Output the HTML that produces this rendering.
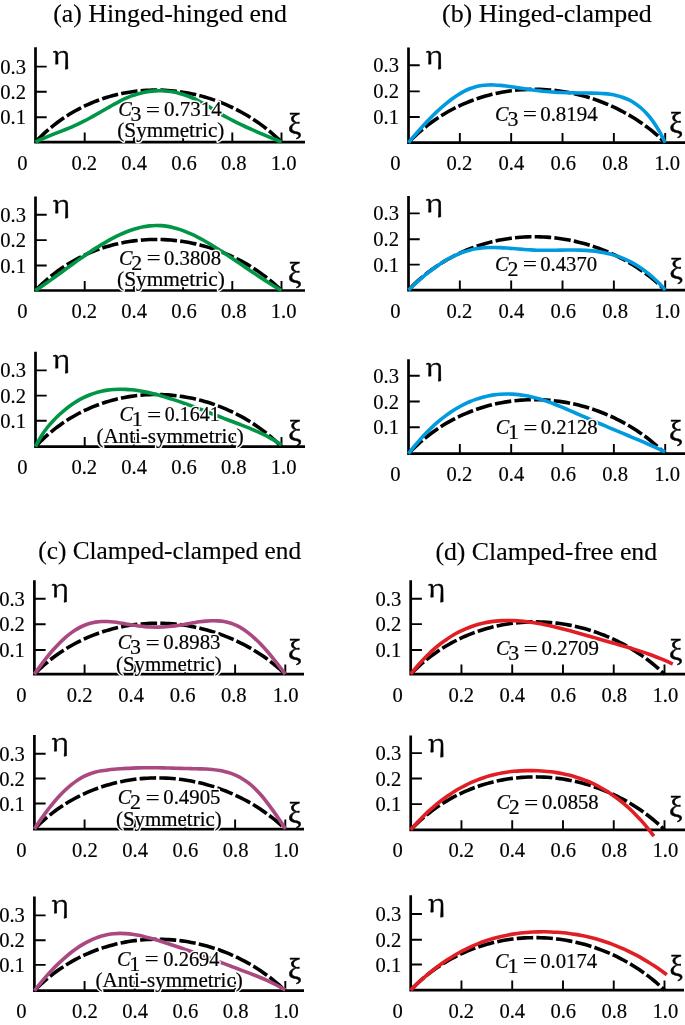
<!DOCTYPE html>
<html><head><meta charset="utf-8"><title>Figure</title>
<style>html,body{margin:0;padding:0;background:#fff;width:685px;height:1025px;overflow:hidden}svg{display:block}</style>
</head><body>
<svg width="685" height="1025" viewBox="0 0 685 1025">
<style>
text{font-family:'Liberation Serif', serif;fill:#000}
.tl{font-size:20.6px;stroke:#000;stroke-width:0.15px}
.gk{font-size:25.5px;font-family:'Noto Serif CJK SC','Liberation Serif',serif;stroke:#000;stroke-width:0.4px}
.gx{font-size:30px;stroke:#000;stroke-width:0.45px}
.halo{font-size:20.3px;fill:#fff;stroke:#fff;stroke-width:3px;stroke-linejoin:round}
.an{font-size:20.3px;stroke:#000;stroke-width:0.2px}
.sb{font-size:17px}
.ti{font-size:25.7px;stroke:#000;stroke-width:0.15px}
</style>
<rect width="685" height="1025" fill="#fff"/>
<path d="M35.5,47.2V142.1M34.15,142.1H305.0" fill="none" stroke="#000" stroke-width="2.7"/>
<path d="M35.5,66.6h11.2M35.5,91.7h11.2M35.5,117.3h11.2M84.70,142.1v-9.6M133.90,142.1v-9.6M183.10,142.1v-9.6M232.30,142.1v-9.6M281.50,142.1v-9.6" fill="none" stroke="#000" stroke-width="1.9"/>
<path d="M35.50,142.10 L38.58,138.88 L41.65,135.83 L44.73,132.94 L47.80,130.19 L50.88,127.58 L53.95,125.09 L57.02,122.72 L60.10,120.47 L63.17,118.33 L66.25,116.29 L69.33,114.35 L72.40,112.50 L75.47,110.75 L78.55,109.08 L81.62,107.50 L84.70,105.99 L87.78,104.57 L90.85,103.23 L93.92,101.96 L97.00,100.76 L100.08,99.63 L103.15,98.57 L106.22,97.58 L109.30,96.65 L112.38,95.79 L115.45,95.00 L118.53,94.26 L121.60,93.59 L124.67,92.98 L127.75,92.43 L130.82,91.94 L133.90,91.50 L136.97,91.13 L140.05,90.81 L143.12,90.55 L146.20,90.34 L149.28,90.19 L152.35,90.10 L155.43,90.06 L158.50,90.08 L161.57,90.15 L164.65,90.27 L167.72,90.46 L170.80,90.69 L173.88,90.98 L176.95,91.33 L180.03,91.73 L183.10,92.19 L186.18,92.70 L189.25,93.27 L192.32,93.90 L195.40,94.58 L198.47,95.32 L201.55,96.12 L204.62,96.98 L207.70,97.89 L210.78,98.87 L213.85,99.91 L216.93,101.01 L220.00,102.18 L223.07,103.41 L226.15,104.70 L229.22,106.07 L232.30,107.50 L235.38,109.00 L238.45,110.58 L241.53,112.23 L244.60,113.96 L247.68,115.77 L250.75,117.67 L253.82,119.65 L256.90,121.72 L259.98,123.88 L263.05,126.14 L266.12,128.51 L269.20,130.98 L272.27,133.57 L275.35,136.28 L278.43,139.12 L281.50,142.10" fill="none" stroke="#000" stroke-width="3.6" stroke-dasharray="16.5 3.2" stroke-dashoffset="-1.5"/>
<path d="M35.50,142.10 C36.50,141.61 39.50,140.10 41.50,139.18 C43.50,138.26 45.50,137.41 47.50,136.57 C49.50,135.74 51.50,134.95 53.50,134.16 C55.50,133.38 57.50,132.62 59.50,131.85 C61.50,131.07 63.50,130.31 65.50,129.51 C67.50,128.71 69.50,127.91 71.50,127.05 C73.50,126.19 75.50,125.30 77.50,124.36 C79.50,123.41 81.50,122.42 83.50,121.40 C85.50,120.38 87.50,119.32 89.50,118.24 C91.50,117.16 93.50,116.04 95.50,114.92 C97.50,113.79 99.50,112.64 101.50,111.49 C103.50,110.34 105.50,109.17 107.50,108.02 C109.50,106.88 111.50,105.73 113.50,104.62 C115.50,103.52 117.50,102.43 119.50,101.40 C121.50,100.38 123.50,99.38 125.50,98.47 C127.50,97.55 129.50,96.69 131.50,95.93 C133.50,95.17 135.50,94.49 137.50,93.90 C139.50,93.31 141.50,92.81 143.50,92.39 C145.50,91.97 147.50,91.64 149.50,91.38 C151.50,91.13 153.50,90.96 155.50,90.87 C157.50,90.77 159.50,90.76 161.50,90.82 C163.50,90.88 165.50,91.01 167.50,91.23 C169.50,91.44 171.50,91.73 173.50,92.10 C175.50,92.46 177.50,92.91 179.50,93.43 C181.50,93.95 183.50,94.55 185.50,95.23 C187.50,95.91 189.50,96.67 191.50,97.50 C193.50,98.34 195.50,99.26 197.50,100.25 C199.50,101.24 201.50,102.34 203.50,103.46 C205.50,104.59 207.50,105.80 209.50,107.01 C211.50,108.21 213.50,109.47 215.50,110.69 C217.50,111.91 219.50,113.15 221.50,114.33 C223.50,115.51 225.50,116.65 227.50,117.76 C229.50,118.86 231.50,119.92 233.50,120.95 C235.50,121.98 237.50,122.97 239.50,123.94 C241.50,124.91 243.50,125.84 245.50,126.76 C247.50,127.68 249.50,128.58 251.50,129.46 C253.50,130.34 255.50,131.20 257.50,132.05 C259.50,132.90 261.50,133.74 263.50,134.58 C265.50,135.41 267.50,136.24 269.50,137.07 C271.50,137.90 273.50,138.73 275.50,139.57 C277.50,140.41 280.50,141.68 281.50,142.10" fill="none" stroke="#009646" stroke-width="3.6" stroke-linecap="butt" stroke-linejoin="round"/>
<text x="26.00" y="73.60" text-anchor="end" class="tl">0.3</text>
<text x="26.00" y="98.70" text-anchor="end" class="tl">0.2</text>
<text x="26.00" y="124.30" text-anchor="end" class="tl">0.1</text>
<text x="22.50" y="169.60" text-anchor="middle" class="tl">0</text>
<text x="84.30" y="169.60" text-anchor="middle" class="tl">0.2</text>
<text x="134.10" y="169.60" text-anchor="middle" class="tl">0.4</text>
<text x="184.00" y="169.60" text-anchor="middle" class="tl">0.6</text>
<text x="233.80" y="169.60" text-anchor="middle" class="tl">0.8</text>
<text x="283.60" y="169.60" text-anchor="middle" class="tl">1.0</text>
<text x="0" y="0" class="gk" transform="translate(52.20,63.60) scale(1.18,1)">η</text>
<text x="288.00" y="133.70" class="gx">ξ</text>
<text x="118.20" y="116.00" font-style="italic" class="halo" aria-hidden="true">C</text>
<text x="0" y="0" transform="translate(130.50,121.00) scale(1.08,1)" class="halo" aria-hidden="true" font-size="17">3</text>
<text x="0" y="0" transform="translate(145.80,116.60) scale(1.25,1)" class="halo" aria-hidden="true">=</text>
<text x="164.10" y="116.00" textLength="57.7" lengthAdjust="spacingAndGlyphs" class="halo" aria-hidden="true">0.7314</text>
<text x="117.30" y="137.40" textLength="107.1" lengthAdjust="spacingAndGlyphs" class="halo" aria-hidden="true">(Symmetric)</text>
<text x="118.20" y="116.00" font-style="italic" class="an">C</text>
<text x="0" y="0" transform="translate(130.50,121.00) scale(1.08,1)" class="an" font-size="17">3</text>
<text x="0" y="0" transform="translate(145.80,116.60) scale(1.25,1)" class="an" style="stroke-width:0">=</text>
<text x="164.10" y="116.00" textLength="57.7" lengthAdjust="spacingAndGlyphs" class="an">0.7314</text>
<text x="117.30" y="137.40" textLength="107.1" lengthAdjust="spacingAndGlyphs" class="an">(Symmetric)</text>
<path d="M35.5,196.4V290.5M34.15,290.5H305.0" fill="none" stroke="#000" stroke-width="2.7"/>
<path d="M35.5,214.8h11.2M35.5,240.1h11.2M35.5,265.5h11.2M84.70,290.5v-9.6M133.90,290.5v-9.6M183.10,290.5v-9.6M232.30,290.5v-9.6M281.50,290.5v-9.6" fill="none" stroke="#000" stroke-width="1.9"/>
<path d="M35.50,290.50 L38.58,287.34 L41.65,284.35 L44.73,281.51 L47.80,278.81 L50.88,276.25 L53.95,273.81 L57.02,271.49 L60.10,269.28 L63.17,267.18 L66.25,265.18 L69.33,263.28 L72.40,261.46 L75.47,259.74 L78.55,258.11 L81.62,256.55 L84.70,255.08 L87.78,253.68 L90.85,252.36 L93.92,251.11 L97.00,249.94 L100.08,248.83 L103.15,247.79 L106.22,246.82 L109.30,245.91 L112.38,245.07 L115.45,244.29 L118.53,243.57 L121.60,242.91 L124.67,242.31 L127.75,241.77 L130.82,241.29 L133.90,240.86 L136.97,240.49 L140.05,240.18 L143.12,239.92 L146.20,239.72 L149.28,239.57 L152.35,239.48 L155.43,239.44 L158.50,239.46 L161.57,239.53 L164.65,239.66 L167.72,239.83 L170.80,240.07 L173.88,240.35 L176.95,240.69 L180.03,241.09 L183.10,241.53 L186.18,242.04 L189.25,242.60 L192.32,243.21 L195.40,243.88 L198.47,244.61 L201.55,245.39 L204.62,246.23 L207.70,247.13 L210.78,248.09 L213.85,249.11 L216.93,250.19 L220.00,251.33 L223.07,252.54 L226.15,253.81 L229.22,255.15 L232.30,256.55 L235.38,258.03 L238.45,259.58 L241.53,261.20 L244.60,262.90 L247.68,264.67 L250.75,266.53 L253.82,268.47 L256.90,270.50 L259.98,272.63 L263.05,274.85 L266.12,277.17 L269.20,279.59 L272.27,282.13 L275.35,284.79 L278.43,287.58 L281.50,290.50" fill="none" stroke="#000" stroke-width="3.6" stroke-dasharray="16.5 3.2" stroke-dashoffset="-1.2"/>
<path d="M35.50,290.50 C36.50,289.83 39.50,287.83 41.50,286.46 C43.50,285.09 45.50,283.69 47.50,282.28 C49.50,280.88 51.50,279.44 53.50,278.01 C55.50,276.57 57.50,275.12 59.50,273.67 C61.50,272.22 63.50,270.76 65.50,269.31 C67.50,267.86 69.50,266.40 71.50,264.96 C73.50,263.51 75.50,262.07 77.50,260.65 C79.50,259.23 81.50,257.82 83.50,256.43 C85.50,255.04 87.50,253.67 89.50,252.32 C91.50,250.98 93.50,249.66 95.50,248.38 C97.50,247.09 99.50,245.84 101.50,244.62 C103.50,243.41 105.50,242.23 107.50,241.10 C109.50,239.96 111.50,238.87 113.50,237.83 C115.50,236.80 117.50,235.80 119.50,234.87 C121.50,233.94 123.50,233.06 125.50,232.25 C127.50,231.44 129.50,230.68 131.50,230.00 C133.50,229.32 135.50,228.70 137.50,228.17 C139.50,227.63 141.50,227.16 143.50,226.78 C145.50,226.39 147.50,226.09 149.50,225.87 C151.50,225.65 153.50,225.52 155.50,225.48 C157.50,225.45 159.50,225.50 161.50,225.65 C163.50,225.80 165.50,226.06 167.50,226.39 C169.50,226.72 171.50,227.15 173.50,227.65 C175.50,228.15 177.50,228.74 179.50,229.40 C181.50,230.05 183.50,230.79 185.50,231.58 C187.50,232.37 189.50,233.23 191.50,234.15 C193.50,235.06 195.50,236.04 197.50,237.06 C199.50,238.08 201.50,239.16 203.50,240.28 C205.50,241.39 207.50,242.55 209.50,243.75 C211.50,244.94 213.50,246.17 215.50,247.42 C217.50,248.68 219.50,249.96 221.50,251.26 C223.50,252.56 225.50,253.89 227.50,255.22 C229.50,256.55 231.50,257.90 233.50,259.25 C235.50,260.60 237.50,261.96 239.50,263.31 C241.50,264.67 243.50,266.03 245.50,267.39 C247.50,268.74 249.50,270.10 251.50,271.44 C253.50,272.78 255.50,274.12 257.50,275.45 C259.50,276.77 261.50,278.09 263.50,279.38 C265.50,280.68 267.50,281.96 269.50,283.22 C271.50,284.48 273.50,285.72 275.50,286.93 C277.50,288.15 280.50,289.90 281.50,290.49" fill="none" stroke="#009646" stroke-width="3.6" stroke-linecap="butt" stroke-linejoin="round"/>
<text x="26.00" y="221.80" text-anchor="end" class="tl">0.3</text>
<text x="26.00" y="247.10" text-anchor="end" class="tl">0.2</text>
<text x="26.00" y="272.50" text-anchor="end" class="tl">0.1</text>
<text x="22.50" y="318.00" text-anchor="middle" class="tl">0</text>
<text x="84.30" y="318.00" text-anchor="middle" class="tl">0.2</text>
<text x="134.10" y="318.00" text-anchor="middle" class="tl">0.4</text>
<text x="184.00" y="318.00" text-anchor="middle" class="tl">0.6</text>
<text x="233.80" y="318.00" text-anchor="middle" class="tl">0.8</text>
<text x="283.60" y="318.00" text-anchor="middle" class="tl">1.0</text>
<text x="0" y="0" class="gk" transform="translate(52.20,212.80) scale(1.18,1)">η</text>
<text x="288.00" y="283.00" class="gx">ξ</text>
<text x="118.90" y="264.60" font-style="italic" class="halo" aria-hidden="true">C</text>
<text x="0" y="0" transform="translate(131.20,269.60) scale(1.08,1)" class="halo" aria-hidden="true" font-size="17">2</text>
<text x="0" y="0" transform="translate(146.50,265.20) scale(1.25,1)" class="halo" aria-hidden="true">=</text>
<text x="164.00" y="264.60" textLength="57.0" lengthAdjust="spacingAndGlyphs" class="halo" aria-hidden="true">0.3808</text>
<text x="117.10" y="286.30" textLength="107.7" lengthAdjust="spacingAndGlyphs" class="halo" aria-hidden="true">(Symmetric)</text>
<text x="118.90" y="264.60" font-style="italic" class="an">C</text>
<text x="0" y="0" transform="translate(131.20,269.60) scale(1.08,1)" class="an" font-size="17">2</text>
<text x="0" y="0" transform="translate(146.50,265.20) scale(1.25,1)" class="an" style="stroke-width:0">=</text>
<text x="164.00" y="264.60" textLength="57.0" lengthAdjust="spacingAndGlyphs" class="an">0.3808</text>
<text x="117.10" y="286.30" textLength="107.7" lengthAdjust="spacingAndGlyphs" class="an">(Symmetric)</text>
<path d="M35.5,351.7V446.6M34.15,446.6H305.0" fill="none" stroke="#000" stroke-width="2.7"/>
<path d="M35.5,370.4h11.2M35.5,395.6h11.2M35.5,420.8h11.2M84.70,446.6v-9.6M133.90,446.6v-9.6M183.10,446.6v-9.6M232.30,446.6v-9.6M281.50,446.6v-9.6" fill="none" stroke="#000" stroke-width="1.9"/>
<path d="M35.50,446.60 L38.58,443.38 L41.65,440.33 L44.73,437.43 L47.80,434.68 L50.88,432.06 L53.95,429.57 L57.02,427.20 L60.10,424.95 L63.17,422.80 L66.25,420.76 L69.33,418.82 L72.40,416.97 L75.47,415.21 L78.55,413.54 L81.62,411.96 L84.70,410.45 L87.78,409.03 L90.85,407.68 L93.92,406.41 L97.00,405.21 L100.08,404.08 L103.15,403.02 L106.22,402.03 L109.30,401.10 L112.38,400.24 L115.45,399.45 L118.53,398.71 L121.60,398.04 L124.67,397.43 L127.75,396.88 L130.82,396.38 L133.90,395.95 L136.97,395.57 L140.05,395.25 L143.12,394.99 L146.20,394.78 L149.28,394.63 L152.35,394.54 L155.43,394.50 L158.50,394.52 L161.57,394.59 L164.65,394.72 L167.72,394.90 L170.80,395.14 L173.88,395.43 L176.95,395.77 L180.03,396.18 L183.10,396.63 L186.18,397.15 L189.25,397.72 L192.32,398.34 L195.40,399.03 L198.47,399.77 L201.55,400.57 L204.62,401.43 L207.70,402.34 L210.78,403.32 L213.85,404.36 L216.93,405.47 L220.00,406.63 L223.07,407.86 L226.15,409.16 L229.22,410.53 L232.30,411.96 L235.38,413.47 L238.45,415.05 L241.53,416.70 L244.60,418.43 L247.68,420.24 L250.75,422.14 L253.82,424.12 L256.90,426.20 L259.98,428.36 L263.05,430.63 L266.12,432.99 L269.20,435.47 L272.27,438.06 L275.35,440.77 L278.43,443.62 L281.50,446.60" fill="none" stroke="#000" stroke-width="3.6" stroke-dasharray="16.5 3.2" stroke-dashoffset="-1.3"/>
<path d="M35.50,446.59 C36.50,444.77 39.50,438.91 41.50,435.68 C43.50,432.46 45.50,429.78 47.50,427.24 C49.50,424.70 51.50,422.55 53.50,420.43 C55.50,418.31 57.50,416.38 59.50,414.53 C61.50,412.68 63.50,410.95 65.50,409.33 C67.50,407.71 69.50,406.21 71.50,404.80 C73.50,403.40 75.50,402.11 77.50,400.92 C79.50,399.73 81.50,398.65 83.50,397.66 C85.50,396.67 87.50,395.78 89.50,394.98 C91.50,394.18 93.50,393.48 95.50,392.86 C97.50,392.24 99.50,391.71 101.50,391.26 C103.50,390.80 105.50,390.44 107.50,390.14 C109.50,389.85 111.50,389.63 113.50,389.48 C115.50,389.32 117.50,389.25 119.50,389.23 C121.50,389.20 123.50,389.25 125.50,389.35 C127.50,389.45 129.50,389.61 131.50,389.81 C133.50,390.02 135.50,390.28 137.50,390.58 C139.50,390.88 141.50,391.23 143.50,391.62 C145.50,392.00 147.50,392.43 149.50,392.88 C151.50,393.34 153.50,393.83 155.50,394.34 C157.50,394.86 159.50,395.40 161.50,395.96 C163.50,396.53 165.50,397.12 167.50,397.73 C169.50,398.34 171.50,398.97 173.50,399.62 C175.50,400.27 177.50,400.94 179.50,401.62 C181.50,402.30 183.50,403.01 185.50,403.72 C187.50,404.43 189.50,405.16 191.50,405.90 C193.50,406.63 195.50,407.38 197.50,408.14 C199.50,408.89 201.50,409.66 203.50,410.43 C205.50,411.19 207.50,411.97 209.50,412.75 C211.50,413.52 213.50,414.30 215.50,415.08 C217.50,415.86 219.50,416.64 221.50,417.42 C223.50,418.19 225.50,418.97 227.50,419.74 C229.50,420.50 231.50,421.26 233.50,422.02 C235.50,422.78 237.50,423.53 239.50,424.30 C241.50,425.07 243.50,425.83 245.50,426.62 C247.50,427.41 249.50,428.21 251.50,429.05 C253.50,429.89 255.50,430.74 257.50,431.64 C259.50,432.55 261.50,433.48 263.50,434.46 C265.50,435.45 267.50,436.48 269.50,437.57 C271.50,438.67 273.50,439.81 275.50,441.03 C277.50,442.25 280.50,444.26 281.50,444.90" fill="none" stroke="#009646" stroke-width="3.6" stroke-linecap="butt" stroke-linejoin="round"/>
<text x="26.00" y="377.40" text-anchor="end" class="tl">0.3</text>
<text x="26.00" y="402.60" text-anchor="end" class="tl">0.2</text>
<text x="26.00" y="427.80" text-anchor="end" class="tl">0.1</text>
<text x="22.50" y="474.10" text-anchor="middle" class="tl">0</text>
<text x="84.30" y="474.10" text-anchor="middle" class="tl">0.2</text>
<text x="134.10" y="474.10" text-anchor="middle" class="tl">0.4</text>
<text x="184.00" y="474.10" text-anchor="middle" class="tl">0.6</text>
<text x="233.80" y="474.10" text-anchor="middle" class="tl">0.8</text>
<text x="283.60" y="474.10" text-anchor="middle" class="tl">1.0</text>
<text x="0" y="0" class="gk" transform="translate(52.20,368.10) scale(1.18,1)">η</text>
<text x="288.30" y="440.50" class="gx">ξ</text>
<text x="119.40" y="421.20" font-style="italic" class="halo" aria-hidden="true">C</text>
<text x="0" y="0" transform="translate(131.70,426.20) scale(1.08,1)" class="halo" aria-hidden="true" font-size="17">1</text>
<text x="0" y="0" transform="translate(147.00,421.80) scale(1.25,1)" class="halo" aria-hidden="true">=</text>
<text x="164.80" y="421.20" textLength="54.9" lengthAdjust="spacingAndGlyphs" class="halo" aria-hidden="true">0.1641</text>
<text x="96.40" y="442.60" textLength="147.4" lengthAdjust="spacingAndGlyphs" class="halo" aria-hidden="true">(Anti-symmetric)</text>
<text x="119.40" y="421.20" font-style="italic" class="an">C</text>
<text x="0" y="0" transform="translate(131.70,426.20) scale(1.08,1)" class="an" font-size="17">1</text>
<text x="0" y="0" transform="translate(147.00,421.80) scale(1.25,1)" class="an" style="stroke-width:0">=</text>
<text x="164.80" y="421.20" textLength="54.9" lengthAdjust="spacingAndGlyphs" class="an">0.1641</text>
<text x="96.40" y="442.60" textLength="147.4" lengthAdjust="spacingAndGlyphs" class="an">(Anti-symmetric)</text>
<path d="M408.5,47.6V142.6M407.15,142.6H686.0" fill="none" stroke="#000" stroke-width="2.7"/>
<path d="M408.5,65.3h11.2M408.5,91.4h11.2M408.5,117.0h11.2M459.84,142.6v-9.6M511.18,142.6v-9.6M562.52,142.6v-9.6M613.86,142.6v-9.6M665.20,142.6v-9.6" fill="none" stroke="#000" stroke-width="1.9"/>
<path d="M408.50,142.60 L411.71,139.30 L414.92,136.18 L418.13,133.22 L421.33,130.40 L424.54,127.72 L427.75,125.18 L430.96,122.75 L434.17,120.45 L437.38,118.25 L440.59,116.16 L443.80,114.18 L447.00,112.28 L450.21,110.49 L453.42,108.78 L456.63,107.16 L459.84,105.62 L463.05,104.16 L466.26,102.78 L469.47,101.48 L472.68,100.25 L475.88,99.10 L479.09,98.01 L482.30,97.00 L485.51,96.05 L488.72,95.17 L491.93,94.35 L495.14,93.60 L498.34,92.91 L501.55,92.29 L504.76,91.72 L507.97,91.22 L511.18,90.77 L514.39,90.39 L517.60,90.06 L520.81,89.79 L524.01,89.58 L527.22,89.43 L530.43,89.33 L533.64,89.29 L536.85,89.31 L540.06,89.39 L543.27,89.51 L546.48,89.70 L549.68,89.94 L552.89,90.24 L556.10,90.60 L559.31,91.01 L562.52,91.48 L565.73,92.00 L568.94,92.58 L572.15,93.23 L575.36,93.92 L578.56,94.68 L581.77,95.50 L584.98,96.38 L588.19,97.32 L591.40,98.32 L594.61,99.38 L597.82,100.51 L601.02,101.71 L604.23,102.96 L607.44,104.29 L610.65,105.69 L613.86,107.16 L617.07,108.70 L620.28,110.31 L623.49,112.01 L626.69,113.78 L629.90,115.63 L633.11,117.57 L636.32,119.60 L639.53,121.72 L642.74,123.94 L645.95,126.26 L649.16,128.68 L652.37,131.21 L655.57,133.86 L658.78,136.64 L661.99,139.55 L665.20,142.60" fill="none" stroke="#000" stroke-width="3.6" stroke-dasharray="16.5 3.2" stroke-dashoffset="-3"/>
<path d="M408.50,142.60 C409.52,141.41 412.57,137.79 414.61,135.44 C416.65,133.09 418.69,130.77 420.72,128.51 C422.76,126.25 424.80,124.02 426.84,121.86 C428.87,119.71 430.91,117.60 432.95,115.57 C434.98,113.54 437.02,111.57 439.06,109.69 C441.10,107.81 443.13,106.01 445.17,104.30 C447.21,102.59 449.25,100.96 451.28,99.44 C453.32,97.93 455.36,96.50 457.40,95.20 C459.43,93.90 461.47,92.70 463.51,91.63 C465.54,90.56 467.58,89.60 469.62,88.79 C471.66,87.98 473.69,87.30 475.73,86.75 C477.77,86.21 479.81,85.81 481.84,85.51 C483.88,85.21 485.92,85.05 487.95,84.95 C489.99,84.86 492.03,84.88 494.07,84.94 C496.10,85.01 498.14,85.17 500.18,85.36 C502.22,85.54 504.25,85.80 506.29,86.06 C508.33,86.32 510.37,86.63 512.40,86.93 C514.44,87.23 516.48,87.54 518.51,87.85 C520.55,88.15 522.59,88.46 524.63,88.76 C526.66,89.05 528.70,89.35 530.74,89.63 C532.78,89.91 534.81,90.19 536.85,90.44 C538.89,90.70 540.92,90.94 542.96,91.17 C545.00,91.39 547.04,91.60 549.07,91.78 C551.11,91.96 553.15,92.12 555.19,92.25 C557.22,92.38 559.26,92.48 561.30,92.57 C563.33,92.65 565.37,92.71 567.41,92.76 C569.45,92.81 571.48,92.84 573.52,92.87 C575.56,92.90 577.60,92.92 579.63,92.94 C581.67,92.96 583.71,92.97 585.75,93.00 C587.78,93.03 589.82,93.05 591.86,93.10 C593.89,93.14 595.93,93.18 597.97,93.27 C600.01,93.35 602.04,93.45 604.08,93.62 C606.12,93.79 608.16,93.99 610.19,94.29 C612.23,94.59 614.27,94.95 616.30,95.43 C618.34,95.92 620.38,96.48 622.42,97.19 C624.45,97.91 626.49,98.72 628.53,99.71 C630.57,100.70 632.60,101.82 634.64,103.15 C636.68,104.49 638.72,105.98 640.75,107.74 C642.79,109.50 644.83,111.45 646.86,113.72 C648.90,115.98 650.94,118.48 652.98,121.34 C655.01,124.19 657.05,127.33 659.09,130.87 C661.13,134.41 664.18,140.64 665.20,142.60" fill="none" stroke="#009bde" stroke-width="3.6" stroke-linecap="butt" stroke-linejoin="round"/>
<text x="399.00" y="72.30" text-anchor="end" class="tl">0.3</text>
<text x="399.00" y="98.40" text-anchor="end" class="tl">0.2</text>
<text x="399.00" y="124.00" text-anchor="end" class="tl">0.1</text>
<text x="395.50" y="170.10" text-anchor="middle" class="tl">0</text>
<text x="459.40" y="170.10" text-anchor="middle" class="tl">0.2</text>
<text x="511.40" y="170.10" text-anchor="middle" class="tl">0.4</text>
<text x="563.30" y="170.10" text-anchor="middle" class="tl">0.6</text>
<text x="615.20" y="170.10" text-anchor="middle" class="tl">0.8</text>
<text x="667.20" y="170.10" text-anchor="middle" class="tl">1.0</text>
<text x="0" y="0" class="gk" transform="translate(425.20,64.00) scale(1.18,1)">η</text>
<text x="669.20" y="132.50" class="gx">ξ</text>
<text x="495.10" y="120.60" font-style="italic" class="halo" aria-hidden="true">C</text>
<text x="0" y="0" transform="translate(507.40,125.60) scale(1.08,1)" class="halo" aria-hidden="true" font-size="17">3</text>
<text x="0" y="0" transform="translate(522.70,121.20) scale(1.25,1)" class="halo" aria-hidden="true">=</text>
<text x="540.20" y="120.60" textLength="57.5" lengthAdjust="spacingAndGlyphs" class="halo" aria-hidden="true">0.8194</text>
<text x="495.10" y="120.60" font-style="italic" class="an">C</text>
<text x="0" y="0" transform="translate(507.40,125.60) scale(1.08,1)" class="an" font-size="17">3</text>
<text x="0" y="0" transform="translate(522.70,121.20) scale(1.25,1)" class="an" style="stroke-width:0">=</text>
<text x="540.20" y="120.60" textLength="57.5" lengthAdjust="spacingAndGlyphs" class="an">0.8194</text>
<path d="M408.5,195.9V290.1M407.15,290.1H686.0" fill="none" stroke="#000" stroke-width="2.7"/>
<path d="M408.5,213.4h11.2M408.5,239.2h11.2M408.5,264.6h11.2M459.84,290.1v-9.6M511.18,290.1v-9.6M562.52,290.1v-9.6M613.86,290.1v-9.6M665.20,290.1v-9.6" fill="none" stroke="#000" stroke-width="1.9"/>
<path d="M408.50,290.10 L411.71,286.80 L414.92,283.67 L418.13,280.71 L421.33,277.89 L424.54,275.21 L427.75,272.66 L430.96,270.23 L434.17,267.93 L437.38,265.73 L440.59,263.64 L443.80,261.65 L447.00,259.75 L450.21,257.95 L453.42,256.24 L456.63,254.62 L459.84,253.08 L463.05,251.62 L466.26,250.24 L469.47,248.94 L472.68,247.71 L475.88,246.55 L479.09,245.47 L482.30,244.45 L485.51,243.50 L488.72,242.62 L491.93,241.80 L495.14,241.05 L498.34,240.36 L501.55,239.74 L504.76,239.17 L507.97,238.67 L511.18,238.22 L514.39,237.84 L517.60,237.51 L520.81,237.24 L524.01,237.03 L527.22,236.88 L530.43,236.78 L533.64,236.74 L536.85,236.76 L540.06,236.83 L543.27,236.96 L546.48,237.15 L549.68,237.39 L552.89,237.69 L556.10,238.04 L559.31,238.46 L562.52,238.92 L565.73,239.45 L568.94,240.03 L572.15,240.68 L575.36,241.38 L578.56,242.13 L581.77,242.95 L584.98,243.83 L588.19,244.77 L591.40,245.78 L594.61,246.84 L597.82,247.97 L601.02,249.16 L604.23,250.43 L607.44,251.75 L610.65,253.15 L613.86,254.62 L617.07,256.16 L620.28,257.78 L623.49,259.48 L626.69,261.25 L629.90,263.11 L633.11,265.05 L636.32,267.08 L639.53,269.20 L642.74,271.42 L645.95,273.74 L649.16,276.16 L652.37,278.70 L655.57,281.36 L658.78,284.13 L661.99,287.05 L665.20,290.10" fill="none" stroke="#000" stroke-width="3.6" stroke-dasharray="16.5 3.2" stroke-dashoffset="-3"/>
<path d="M408.50,290.10 C409.52,289.13 412.57,286.17 414.61,284.29 C416.65,282.41 418.69,280.58 420.72,278.82 C422.76,277.05 424.80,275.35 426.84,273.71 C428.87,272.07 430.91,270.50 432.95,268.99 C434.98,267.49 437.02,266.05 439.06,264.69 C441.10,263.33 443.13,262.03 445.17,260.82 C447.21,259.61 449.25,258.47 451.28,257.41 C453.32,256.35 455.36,255.37 457.40,254.48 C459.43,253.58 461.47,252.77 463.51,252.04 C465.54,251.32 467.58,250.68 469.62,250.14 C471.66,249.60 473.69,249.15 475.73,248.78 C477.77,248.42 479.81,248.16 481.84,247.95 C483.88,247.75 485.92,247.63 487.95,247.56 C489.99,247.48 492.03,247.48 494.07,247.50 C496.10,247.52 498.14,247.59 500.18,247.67 C502.22,247.76 504.25,247.89 506.29,248.03 C508.33,248.16 510.37,248.32 512.40,248.49 C514.44,248.65 516.48,248.83 518.51,248.99 C520.55,249.16 522.59,249.34 524.63,249.49 C526.66,249.64 528.70,249.79 530.74,249.91 C532.78,250.02 534.81,250.12 536.85,250.19 C538.89,250.25 540.92,250.28 542.96,250.30 C545.00,250.32 547.04,250.31 549.07,250.30 C551.11,250.29 553.15,250.26 555.19,250.23 C557.22,250.20 559.26,250.16 561.30,250.13 C563.33,250.10 565.37,250.06 567.41,250.05 C569.45,250.03 571.48,250.02 573.52,250.03 C575.56,250.05 577.60,250.08 579.63,250.14 C581.67,250.20 583.71,250.28 585.75,250.41 C587.78,250.53 589.82,250.69 591.86,250.89 C593.89,251.09 595.93,251.33 597.97,251.63 C600.01,251.92 602.04,252.26 604.08,252.67 C606.12,253.07 608.16,253.53 610.19,254.06 C612.23,254.59 614.27,255.18 616.30,255.86 C618.34,256.53 620.38,257.27 622.42,258.10 C624.45,258.92 626.49,259.82 628.53,260.82 C630.57,261.82 632.60,262.90 634.64,264.08 C636.68,265.26 638.72,266.53 640.75,267.91 C642.79,269.28 644.83,270.75 646.86,272.35 C648.90,273.94 650.94,275.64 652.98,277.47 C655.01,279.31 657.05,281.26 659.09,283.36 C661.13,285.47 664.18,288.98 665.20,290.10" fill="none" stroke="#009bde" stroke-width="3.6" stroke-linecap="butt" stroke-linejoin="round"/>
<text x="399.00" y="220.40" text-anchor="end" class="tl">0.3</text>
<text x="399.00" y="246.20" text-anchor="end" class="tl">0.2</text>
<text x="399.00" y="271.60" text-anchor="end" class="tl">0.1</text>
<text x="395.50" y="317.60" text-anchor="middle" class="tl">0</text>
<text x="459.40" y="317.60" text-anchor="middle" class="tl">0.2</text>
<text x="511.40" y="317.60" text-anchor="middle" class="tl">0.4</text>
<text x="563.30" y="317.60" text-anchor="middle" class="tl">0.6</text>
<text x="615.20" y="317.60" text-anchor="middle" class="tl">0.8</text>
<text x="667.20" y="317.60" text-anchor="middle" class="tl">1.0</text>
<text x="0" y="0" class="gk" transform="translate(425.20,212.30) scale(1.18,1)">η</text>
<text x="669.40" y="278.50" class="gx">ξ</text>
<text x="495.10" y="270.80" font-style="italic" class="halo" aria-hidden="true">C</text>
<text x="0" y="0" transform="translate(507.40,275.80) scale(1.08,1)" class="halo" aria-hidden="true" font-size="17">2</text>
<text x="0" y="0" transform="translate(522.70,271.40) scale(1.25,1)" class="halo" aria-hidden="true">=</text>
<text x="540.20" y="270.80" textLength="57.0" lengthAdjust="spacingAndGlyphs" class="halo" aria-hidden="true">0.4370</text>
<text x="495.10" y="270.80" font-style="italic" class="an">C</text>
<text x="0" y="0" transform="translate(507.40,275.80) scale(1.08,1)" class="an" font-size="17">2</text>
<text x="0" y="0" transform="translate(522.70,271.40) scale(1.25,1)" class="an" style="stroke-width:0">=</text>
<text x="540.20" y="270.80" textLength="57.0" lengthAdjust="spacingAndGlyphs" class="an">0.4370</text>
<path d="M408.5,359.3V453.6M407.15,453.6H686.0" fill="none" stroke="#000" stroke-width="2.7"/>
<path d="M408.5,375.7h11.2M408.5,401.5h11.2M408.5,427.2h11.2M459.84,453.6v-9.6M511.18,453.6v-9.6M562.52,453.6v-9.6M613.86,453.6v-9.6M665.20,453.6v-9.6" fill="none" stroke="#000" stroke-width="1.9"/>
<path d="M408.50,453.60 L411.71,450.26 L414.92,447.10 L418.13,444.10 L421.33,441.25 L424.54,438.54 L427.75,435.97 L430.96,433.51 L434.17,431.18 L437.38,428.96 L440.59,426.84 L443.80,424.83 L447.00,422.92 L450.21,421.10 L453.42,419.37 L456.63,417.73 L459.84,416.17 L463.05,414.70 L466.26,413.30 L469.47,411.98 L472.68,410.74 L475.88,409.57 L479.09,408.47 L482.30,407.45 L485.51,406.49 L488.72,405.60 L491.93,404.77 L495.14,404.01 L498.34,403.31 L501.55,402.68 L504.76,402.11 L507.97,401.60 L511.18,401.15 L514.39,400.76 L517.60,400.43 L520.81,400.16 L524.01,399.94 L527.22,399.79 L530.43,399.69 L533.64,399.65 L536.85,399.67 L540.06,399.74 L543.27,399.87 L546.48,400.06 L549.68,400.31 L552.89,400.61 L556.10,400.97 L559.31,401.38 L562.52,401.86 L565.73,402.39 L568.94,402.98 L572.15,403.63 L575.36,404.34 L578.56,405.10 L581.77,405.93 L584.98,406.82 L588.19,407.77 L591.40,408.78 L594.61,409.86 L597.82,411.00 L601.02,412.21 L604.23,413.49 L607.44,414.83 L610.65,416.24 L613.86,417.73 L617.07,419.29 L620.28,420.92 L623.49,422.64 L626.69,424.43 L629.90,426.31 L633.11,428.27 L636.32,430.32 L639.53,432.47 L642.74,434.71 L645.95,437.06 L649.16,439.51 L652.37,442.08 L655.57,444.76 L658.78,447.57 L661.99,450.51 L665.20,453.60" fill="none" stroke="#000" stroke-width="3.6" stroke-dasharray="16.5 3.2" stroke-dashoffset="-2.7"/>
<path d="M408.50,453.60 C409.52,452.32 412.57,448.39 414.61,445.93 C416.65,443.47 418.69,441.11 420.72,438.84 C422.76,436.57 424.80,434.41 426.84,432.33 C428.87,430.26 430.91,428.28 432.95,426.39 C434.98,424.50 437.02,422.70 439.06,420.99 C441.10,419.28 443.13,417.66 445.17,416.13 C447.21,414.60 449.25,413.15 451.28,411.79 C453.32,410.43 455.36,409.15 457.40,407.96 C459.43,406.77 461.47,405.66 463.51,404.63 C465.54,403.59 467.58,402.64 469.62,401.77 C471.66,400.90 473.69,400.10 475.73,399.38 C477.77,398.66 479.81,398.02 481.84,397.45 C483.88,396.88 485.92,396.39 487.95,395.96 C489.99,395.53 492.03,395.18 494.07,394.89 C496.10,394.61 498.14,394.39 500.18,394.24 C502.22,394.09 504.25,394.01 506.29,393.99 C508.33,393.97 510.37,394.01 512.40,394.12 C514.44,394.22 516.48,394.39 518.51,394.62 C520.55,394.85 522.59,395.14 524.63,395.48 C526.66,395.83 528.70,396.23 530.74,396.69 C532.78,397.15 534.81,397.66 536.85,398.23 C538.89,398.79 540.92,399.41 542.96,400.07 C545.00,400.73 547.04,401.43 549.07,402.17 C551.11,402.90 553.15,403.68 555.19,404.48 C557.22,405.27 559.26,406.11 561.30,406.95 C563.33,407.79 565.37,408.66 567.41,409.53 C569.45,410.40 571.48,411.29 573.52,412.18 C575.56,413.06 577.60,413.95 579.63,414.84 C581.67,415.73 583.71,416.62 585.75,417.51 C587.78,418.40 589.82,419.29 591.86,420.18 C593.89,421.06 595.93,421.95 597.97,422.83 C600.01,423.71 602.04,424.59 604.08,425.46 C606.12,426.34 608.16,427.21 610.19,428.07 C612.23,428.94 614.27,429.79 616.30,430.65 C618.34,431.50 620.38,432.35 622.42,433.20 C624.45,434.05 626.49,434.89 628.53,435.74 C630.57,436.59 632.60,437.44 634.64,438.30 C636.68,439.16 638.72,440.02 640.75,440.89 C642.79,441.76 644.83,442.64 646.86,443.54 C648.90,444.43 650.94,445.33 652.98,446.25 C655.01,447.18 657.05,448.11 659.09,449.07 C661.13,450.02 664.18,451.51 665.20,452.00" fill="none" stroke="#009bde" stroke-width="3.6" stroke-linecap="butt" stroke-linejoin="round"/>
<text x="399.00" y="382.70" text-anchor="end" class="tl">0.3</text>
<text x="399.00" y="408.50" text-anchor="end" class="tl">0.2</text>
<text x="399.00" y="434.20" text-anchor="end" class="tl">0.1</text>
<text x="395.50" y="481.10" text-anchor="middle" class="tl">0</text>
<text x="459.40" y="481.10" text-anchor="middle" class="tl">0.2</text>
<text x="511.40" y="481.10" text-anchor="middle" class="tl">0.4</text>
<text x="563.30" y="481.10" text-anchor="middle" class="tl">0.6</text>
<text x="615.20" y="481.10" text-anchor="middle" class="tl">0.8</text>
<text x="667.20" y="481.10" text-anchor="middle" class="tl">1.0</text>
<text x="0" y="0" class="gk" transform="translate(425.20,375.70) scale(1.18,1)">η</text>
<text x="669.10" y="440.60" class="gx">ξ</text>
<text x="495.70" y="434.00" font-style="italic" class="halo" aria-hidden="true">C</text>
<text x="0" y="0" transform="translate(508.00,439.00) scale(1.08,1)" class="halo" aria-hidden="true" font-size="17">1</text>
<text x="0" y="0" transform="translate(523.30,434.60) scale(1.25,1)" class="halo" aria-hidden="true">=</text>
<text x="540.70" y="434.00" textLength="57.0" lengthAdjust="spacingAndGlyphs" class="halo" aria-hidden="true">0.2128</text>
<text x="495.70" y="434.00" font-style="italic" class="an">C</text>
<text x="0" y="0" transform="translate(508.00,439.00) scale(1.08,1)" class="an" font-size="17">1</text>
<text x="0" y="0" transform="translate(523.30,434.60) scale(1.25,1)" class="an" style="stroke-width:0">=</text>
<text x="540.70" y="434.00" textLength="57.0" lengthAdjust="spacingAndGlyphs" class="an">0.2128</text>
<path d="M34.4,580.3V674.2M33.05,674.2H304.0" fill="none" stroke="#000" stroke-width="2.7"/>
<path d="M34.4,598.7h11.2M34.4,624.2h11.2M34.4,650.0h11.2M84.58,674.2v-9.6M134.76,674.2v-9.6M184.94,674.2v-9.6M235.12,674.2v-9.6M285.30,674.2v-9.6" fill="none" stroke="#000" stroke-width="1.9"/>
<path d="M34.40,674.20 L37.54,671.05 L40.67,668.06 L43.81,665.23 L46.95,662.54 L50.08,659.98 L53.22,657.54 L56.35,655.23 L59.49,653.02 L62.63,650.92 L65.76,648.93 L68.90,647.03 L72.03,645.22 L75.17,643.50 L78.31,641.86 L81.44,640.31 L84.58,638.84 L87.72,637.45 L90.85,636.13 L93.99,634.89 L97.12,633.71 L100.26,632.61 L103.40,631.57 L106.53,630.60 L109.67,629.70 L112.81,628.85 L115.94,628.07 L119.08,627.36 L122.22,626.70 L125.35,626.10 L128.49,625.56 L131.62,625.08 L134.76,624.65 L137.90,624.29 L141.03,623.97 L144.17,623.72 L147.31,623.52 L150.44,623.37 L153.58,623.28 L156.71,623.24 L159.85,623.26 L162.99,623.33 L166.12,623.45 L169.26,623.63 L172.40,623.86 L175.53,624.14 L178.67,624.48 L181.80,624.88 L184.94,625.32 L188.08,625.83 L191.21,626.38 L194.35,627.00 L197.49,627.67 L200.62,628.39 L203.76,629.17 L206.89,630.01 L210.03,630.91 L213.17,631.87 L216.30,632.88 L219.44,633.96 L222.58,635.10 L225.71,636.31 L228.85,637.58 L231.98,638.91 L235.12,640.32 L238.26,641.79 L241.39,643.33 L244.53,644.95 L247.66,646.65 L250.80,648.42 L253.94,650.27 L257.07,652.21 L260.21,654.24 L263.35,656.36 L266.48,658.57 L269.62,660.89 L272.75,663.31 L275.89,665.85 L279.03,668.50 L282.16,671.28 L285.30,674.20" fill="none" stroke="#000" stroke-width="3.6" stroke-dasharray="16.5 3.2" stroke-dashoffset="-1.8"/>
<path d="M34.40,674.20 C35.42,672.78 38.48,668.43 40.52,665.67 C42.56,662.92 44.60,660.24 46.64,657.68 C48.68,655.11 50.72,652.64 52.76,650.31 C54.80,647.97 56.84,645.73 58.88,643.65 C60.92,641.57 62.96,639.60 65.00,637.80 C67.04,636.00 69.08,634.34 71.12,632.84 C73.16,631.35 75.20,630.02 77.24,628.84 C79.28,627.65 81.32,626.63 83.36,625.74 C85.40,624.86 87.44,624.12 89.48,623.52 C91.52,622.92 93.56,622.46 95.60,622.12 C97.63,621.78 99.67,621.59 101.71,621.49 C103.75,621.39 105.79,621.43 107.83,621.53 C109.87,621.62 111.91,621.83 113.95,622.07 C115.99,622.30 118.03,622.62 120.07,622.94 C122.11,623.26 124.15,623.64 126.19,623.99 C128.23,624.34 130.27,624.72 132.31,625.05 C134.35,625.37 136.39,625.69 138.43,625.95 C140.47,626.20 142.51,626.42 144.55,626.59 C146.59,626.76 148.63,626.88 150.67,626.97 C152.71,627.05 154.75,627.08 156.79,627.08 C158.83,627.07 160.87,627.02 162.91,626.93 C164.95,626.84 166.99,626.70 169.03,626.52 C171.07,626.34 173.11,626.12 175.15,625.86 C177.19,625.59 179.23,625.27 181.27,624.95 C183.31,624.62 185.35,624.24 187.39,623.89 C189.43,623.53 191.47,623.15 193.51,622.81 C195.55,622.47 197.59,622.12 199.63,621.84 C201.67,621.56 203.71,621.29 205.75,621.11 C207.79,620.92 209.83,620.78 211.87,620.74 C213.91,620.69 215.95,620.71 217.99,620.85 C220.03,621.00 222.07,621.22 224.10,621.59 C226.14,621.96 228.18,622.43 230.22,623.07 C232.26,623.71 234.30,624.48 236.34,625.43 C238.38,626.38 240.42,627.49 242.46,628.77 C244.50,630.05 246.54,631.51 248.58,633.10 C250.62,634.69 252.66,636.45 254.70,638.32 C256.74,640.18 258.78,642.20 260.82,644.32 C262.86,646.43 264.90,648.68 266.94,651.00 C268.98,653.33 271.02,655.77 273.06,658.28 C275.10,660.79 277.14,663.39 279.18,666.05 C281.22,668.70 284.28,672.84 285.30,674.20" fill="none" stroke="#aa4880" stroke-width="3.6" stroke-linecap="butt" stroke-linejoin="round"/>
<text x="24.90" y="605.70" text-anchor="end" class="tl">0.3</text>
<text x="24.90" y="631.20" text-anchor="end" class="tl">0.2</text>
<text x="24.90" y="657.00" text-anchor="end" class="tl">0.1</text>
<text x="21.40" y="701.70" text-anchor="middle" class="tl">0</text>
<text x="79.60" y="701.70" text-anchor="middle" class="tl">0.2</text>
<text x="131.20" y="701.70" text-anchor="middle" class="tl">0.4</text>
<text x="182.60" y="701.70" text-anchor="middle" class="tl">0.6</text>
<text x="233.80" y="701.70" text-anchor="middle" class="tl">0.8</text>
<text x="285.60" y="701.70" text-anchor="middle" class="tl">1.0</text>
<text x="0" y="0" class="gk" transform="translate(51.10,596.70) scale(1.18,1)">η</text>
<text x="288.00" y="660.00" class="gx">ξ</text>
<text x="117.80" y="649.40" font-style="italic" class="halo" aria-hidden="true">C</text>
<text x="0" y="0" transform="translate(130.10,654.40) scale(1.08,1)" class="halo" aria-hidden="true" font-size="17">3</text>
<text x="0" y="0" transform="translate(145.40,650.00) scale(1.25,1)" class="halo" aria-hidden="true">=</text>
<text x="163.30" y="649.40" textLength="57.1" lengthAdjust="spacingAndGlyphs" class="halo" aria-hidden="true">0.8983</text>
<text x="116.00" y="670.80" textLength="105.7" lengthAdjust="spacingAndGlyphs" class="halo" aria-hidden="true">(Symmetric)</text>
<text x="117.80" y="649.40" font-style="italic" class="an">C</text>
<text x="0" y="0" transform="translate(130.10,654.40) scale(1.08,1)" class="an" font-size="17">3</text>
<text x="0" y="0" transform="translate(145.40,650.00) scale(1.25,1)" class="an" style="stroke-width:0">=</text>
<text x="163.30" y="649.40" textLength="57.1" lengthAdjust="spacingAndGlyphs" class="an">0.8983</text>
<text x="116.00" y="670.80" textLength="105.7" lengthAdjust="spacingAndGlyphs" class="an">(Symmetric)</text>
<path d="M34.4,735.0V829.1M33.05,829.1H304.0" fill="none" stroke="#000" stroke-width="2.7"/>
<path d="M34.4,753.7h11.2M34.4,778.5h11.2M34.4,803.5h11.2M84.58,829.1v-9.6M134.76,829.1v-9.6M184.94,829.1v-9.6M235.12,829.1v-9.6M285.30,829.1v-9.6" fill="none" stroke="#000" stroke-width="1.9"/>
<path d="M34.40,829.10 L37.54,825.94 L40.67,822.94 L43.81,820.09 L46.95,817.39 L50.08,814.81 L53.22,812.37 L56.35,810.04 L59.49,807.83 L62.63,805.72 L65.76,803.71 L68.90,801.81 L72.03,799.99 L75.17,798.26 L78.31,796.62 L81.44,795.06 L84.58,793.59 L87.72,792.19 L90.85,790.86 L93.99,789.61 L97.12,788.44 L100.26,787.33 L103.40,786.28 L106.53,785.31 L109.67,784.40 L112.81,783.55 L115.94,782.77 L119.08,782.05 L122.22,781.39 L125.35,780.79 L128.49,780.25 L131.62,779.76 L134.76,779.33 L137.90,778.97 L141.03,778.65 L144.17,778.39 L147.31,778.19 L150.44,778.04 L153.58,777.95 L156.71,777.91 L159.85,777.93 L162.99,778.00 L166.12,778.13 L169.26,778.30 L172.40,778.54 L175.53,778.82 L178.67,779.16 L181.80,779.56 L184.94,780.01 L188.08,780.51 L191.21,781.07 L194.35,781.69 L197.49,782.36 L200.62,783.09 L203.76,783.87 L206.89,784.72 L210.03,785.62 L213.17,786.58 L216.30,787.60 L219.44,788.69 L222.58,789.83 L225.71,791.04 L228.85,792.32 L231.98,793.66 L235.12,795.07 L238.26,796.55 L241.39,798.10 L244.53,799.72 L247.66,801.43 L250.80,803.21 L253.94,805.07 L257.07,807.02 L260.21,809.05 L263.35,811.18 L266.48,813.41 L269.62,815.73 L272.75,818.17 L275.89,820.71 L279.03,823.38 L282.16,826.17 L285.30,829.10" fill="none" stroke="#000" stroke-width="3.6" stroke-dasharray="16.5 3.2" stroke-dashoffset="-0.9"/>
<path d="M34.40,829.10 C35.42,827.56 38.48,822.85 40.52,819.89 C42.57,816.94 44.61,814.09 46.65,811.37 C48.69,808.65 50.73,806.05 52.77,803.57 C54.81,801.10 56.86,798.75 58.90,796.54 C60.94,794.33 62.98,792.24 65.02,790.30 C67.06,788.36 69.10,786.56 71.15,784.90 C73.19,783.25 75.23,781.74 77.27,780.37 C79.31,779.01 81.35,777.79 83.40,776.72 C85.44,775.66 87.48,774.75 89.52,773.97 C91.56,773.20 93.60,772.60 95.64,772.08 C97.69,771.56 99.73,771.18 101.77,770.83 C103.81,770.48 105.85,770.23 107.89,769.98 C109.93,769.72 111.98,769.51 114.02,769.31 C116.06,769.11 118.10,768.94 120.14,768.78 C122.18,768.63 124.22,768.50 126.27,768.38 C128.31,768.26 130.35,768.17 132.39,768.09 C134.43,768.01 136.47,767.95 138.51,767.90 C140.56,767.85 142.60,767.82 144.64,767.80 C146.68,767.78 148.72,767.77 150.76,767.77 C152.80,767.78 154.85,767.79 156.89,767.81 C158.93,767.83 160.97,767.86 163.01,767.90 C165.05,767.94 167.10,767.98 169.14,768.03 C171.18,768.07 173.22,768.13 175.26,768.18 C177.30,768.24 179.34,768.29 181.39,768.35 C183.43,768.41 185.47,768.46 187.51,768.52 C189.55,768.57 191.59,768.63 193.63,768.68 C195.68,768.73 197.72,768.76 199.76,768.83 C201.80,768.89 203.84,768.94 205.88,769.04 C207.92,769.15 209.97,769.27 212.01,769.46 C214.05,769.66 216.09,769.88 218.13,770.20 C220.17,770.53 222.21,770.90 224.26,771.40 C226.30,771.89 228.34,772.46 230.38,773.16 C232.42,773.87 234.46,774.67 236.50,775.64 C238.55,776.60 240.59,777.68 242.63,778.93 C244.67,780.19 246.71,781.59 248.75,783.19 C250.80,784.78 252.84,786.55 254.88,788.52 C256.92,790.49 258.96,792.68 261.00,795.02 C263.04,797.36 265.09,799.91 267.13,802.55 C269.17,805.20 271.21,808.02 273.25,810.89 C275.29,813.77 277.33,816.78 279.38,819.82 C281.42,822.85 284.48,827.55 285.50,829.10" fill="none" stroke="#aa4880" stroke-width="3.6" stroke-linecap="butt" stroke-linejoin="round"/>
<text x="24.90" y="760.70" text-anchor="end" class="tl">0.3</text>
<text x="24.90" y="785.50" text-anchor="end" class="tl">0.2</text>
<text x="24.90" y="810.50" text-anchor="end" class="tl">0.1</text>
<text x="21.40" y="856.60" text-anchor="middle" class="tl">0</text>
<text x="84.90" y="856.60" text-anchor="middle" class="tl">0.2</text>
<text x="135.20" y="856.60" text-anchor="middle" class="tl">0.4</text>
<text x="185.40" y="856.60" text-anchor="middle" class="tl">0.6</text>
<text x="235.70" y="856.60" text-anchor="middle" class="tl">0.8</text>
<text x="286.00" y="856.60" text-anchor="middle" class="tl">1.0</text>
<text x="0" y="0" class="gk" transform="translate(51.10,751.40) scale(1.18,1)">η</text>
<text x="288.00" y="823.20" class="gx">ξ</text>
<text x="117.80" y="804.40" font-style="italic" class="halo" aria-hidden="true">C</text>
<text x="0" y="0" transform="translate(130.10,809.40) scale(1.08,1)" class="halo" aria-hidden="true" font-size="17">2</text>
<text x="0" y="0" transform="translate(145.40,805.00) scale(1.25,1)" class="halo" aria-hidden="true">=</text>
<text x="163.30" y="804.40" textLength="57.1" lengthAdjust="spacingAndGlyphs" class="halo" aria-hidden="true">0.4905</text>
<text x="116.00" y="825.80" textLength="105.7" lengthAdjust="spacingAndGlyphs" class="halo" aria-hidden="true">(Symmetric)</text>
<text x="117.80" y="804.40" font-style="italic" class="an">C</text>
<text x="0" y="0" transform="translate(130.10,809.40) scale(1.08,1)" class="an" font-size="17">2</text>
<text x="0" y="0" transform="translate(145.40,805.00) scale(1.25,1)" class="an" style="stroke-width:0">=</text>
<text x="163.30" y="804.40" textLength="57.1" lengthAdjust="spacingAndGlyphs" class="an">0.4905</text>
<text x="116.00" y="825.80" textLength="105.7" lengthAdjust="spacingAndGlyphs" class="an">(Symmetric)</text>
<path d="M34.4,896.4V990.7M33.05,990.7H304.0" fill="none" stroke="#000" stroke-width="2.7"/>
<path d="M34.4,915.4h11.2M34.4,940.3h11.2M34.4,964.9h11.2M84.58,990.7v-9.6M134.76,990.7v-9.6M184.94,990.7v-9.6M235.12,990.7v-9.6M285.30,990.7v-9.6" fill="none" stroke="#000" stroke-width="1.9"/>
<path d="M34.40,990.70 L37.54,987.52 L40.67,984.50 L43.81,981.64 L46.95,978.92 L50.08,976.33 L53.22,973.87 L56.35,971.53 L59.49,969.31 L62.63,967.19 L65.76,965.17 L68.90,963.25 L72.03,961.42 L75.17,959.68 L78.31,958.03 L81.44,956.47 L84.58,954.98 L87.72,953.58 L90.85,952.24 L93.99,950.99 L97.12,949.80 L100.26,948.68 L103.40,947.64 L106.53,946.66 L109.67,945.74 L112.81,944.89 L115.94,944.10 L119.08,943.38 L122.22,942.71 L125.35,942.11 L128.49,941.56 L131.62,941.08 L134.76,940.65 L137.90,940.28 L141.03,939.96 L144.17,939.70 L147.31,939.50 L150.44,939.35 L153.58,939.26 L156.71,939.22 L159.85,939.23 L162.99,939.31 L166.12,939.43 L169.26,939.61 L172.40,939.84 L175.53,940.13 L178.67,940.47 L181.80,940.87 L184.94,941.32 L188.08,941.83 L191.21,942.40 L194.35,943.01 L197.49,943.69 L200.62,944.42 L203.76,945.21 L206.89,946.06 L210.03,946.97 L213.17,947.93 L216.30,948.96 L219.44,950.05 L222.58,951.20 L225.71,952.42 L228.85,953.70 L231.98,955.05 L235.12,956.47 L238.26,957.96 L241.39,959.52 L244.53,961.15 L247.66,962.87 L250.80,964.66 L253.94,966.53 L257.07,968.49 L260.21,970.54 L263.35,972.68 L266.48,974.92 L269.62,977.26 L272.75,979.70 L275.89,982.26 L279.03,984.94 L282.16,987.75 L285.30,990.70" fill="none" stroke="#000" stroke-width="3.6" stroke-dasharray="16.5 3.2" stroke-dashoffset="-1.5"/>
<path d="M34.40,990.70 C35.42,989.43 38.48,985.53 40.52,983.06 C42.56,980.60 44.60,978.21 46.64,975.92 C48.68,973.62 50.72,971.40 52.76,969.28 C54.80,967.15 56.84,965.11 58.88,963.16 C60.92,961.21 62.96,959.35 65.00,957.58 C67.04,955.81 69.08,954.13 71.12,952.54 C73.16,950.96 75.20,949.46 77.24,948.06 C79.28,946.67 81.32,945.36 83.36,944.16 C85.40,942.96 87.44,941.85 89.48,940.84 C91.52,939.83 93.56,938.93 95.60,938.12 C97.63,937.32 99.67,936.61 101.71,936.01 C103.75,935.41 105.79,934.92 107.83,934.53 C109.87,934.14 111.91,933.86 113.95,933.67 C115.99,933.48 118.03,933.39 120.07,933.38 C122.11,933.37 124.15,933.46 126.19,933.60 C128.23,933.75 130.27,933.98 132.31,934.27 C134.35,934.55 136.39,934.91 138.43,935.31 C140.47,935.71 142.51,936.18 144.55,936.67 C146.59,937.16 148.63,937.71 150.67,938.27 C152.71,938.84 154.75,939.45 156.79,940.06 C158.83,940.68 160.87,941.32 162.91,941.97 C164.95,942.62 166.99,943.28 169.03,943.95 C171.07,944.61 173.11,945.29 175.15,945.98 C177.19,946.67 179.23,947.36 181.27,948.06 C183.31,948.77 185.35,949.48 187.39,950.19 C189.43,950.91 191.47,951.64 193.51,952.37 C195.55,953.10 197.59,953.83 199.63,954.57 C201.67,955.32 203.71,956.06 205.75,956.81 C207.79,957.56 209.83,958.32 211.87,959.08 C213.91,959.83 215.95,960.60 217.99,961.36 C220.03,962.12 222.07,962.89 224.10,963.66 C226.14,964.42 228.18,965.19 230.22,965.96 C232.26,966.73 234.30,967.50 236.34,968.27 C238.38,969.05 240.42,969.81 242.46,970.58 C244.50,971.35 246.54,972.12 248.58,972.90 C250.62,973.68 252.66,974.46 254.70,975.27 C256.74,976.07 258.78,976.89 260.82,977.75 C262.86,978.60 264.90,979.48 266.94,980.40 C268.98,981.32 271.02,982.28 273.06,983.29 C275.10,984.30 277.14,985.35 279.18,986.47 C281.22,987.58 284.28,989.41 285.30,990.00" fill="none" stroke="#aa4880" stroke-width="3.6" stroke-linecap="butt" stroke-linejoin="round"/>
<text x="24.90" y="922.40" text-anchor="end" class="tl">0.3</text>
<text x="24.90" y="947.30" text-anchor="end" class="tl">0.2</text>
<text x="24.90" y="971.90" text-anchor="end" class="tl">0.1</text>
<text x="21.40" y="1018.20" text-anchor="middle" class="tl">0</text>
<text x="84.90" y="1018.20" text-anchor="middle" class="tl">0.2</text>
<text x="135.20" y="1018.20" text-anchor="middle" class="tl">0.4</text>
<text x="185.40" y="1018.20" text-anchor="middle" class="tl">0.6</text>
<text x="235.70" y="1018.20" text-anchor="middle" class="tl">0.8</text>
<text x="286.00" y="1018.20" text-anchor="middle" class="tl">1.0</text>
<text x="0" y="0" class="gk" transform="translate(51.10,912.80) scale(1.18,1)">η</text>
<text x="288.00" y="978.50" class="gx">ξ</text>
<text x="117.00" y="965.80" font-style="italic" class="halo" aria-hidden="true">C</text>
<text x="0" y="0" transform="translate(129.30,970.80) scale(1.08,1)" class="halo" aria-hidden="true" font-size="17">1</text>
<text x="0" y="0" transform="translate(144.60,966.40) scale(1.25,1)" class="halo" aria-hidden="true">=</text>
<text x="163.30" y="965.80" textLength="56.3" lengthAdjust="spacingAndGlyphs" class="halo" aria-hidden="true">0.2694</text>
<text x="95.50" y="987.20" textLength="147.3" lengthAdjust="spacingAndGlyphs" class="halo" aria-hidden="true">(Anti-symmetric)</text>
<text x="117.00" y="965.80" font-style="italic" class="an">C</text>
<text x="0" y="0" transform="translate(129.30,970.80) scale(1.08,1)" class="an" font-size="17">1</text>
<text x="0" y="0" transform="translate(144.60,966.40) scale(1.25,1)" class="an" style="stroke-width:0">=</text>
<text x="163.30" y="965.80" textLength="56.3" lengthAdjust="spacingAndGlyphs" class="an">0.2694</text>
<text x="95.50" y="987.20" textLength="147.3" lengthAdjust="spacingAndGlyphs" class="an">(Anti-symmetric)</text>
<path d="M410.7,580.3V674.2M409.35,674.2H686.0" fill="none" stroke="#000" stroke-width="2.7"/>
<path d="M410.7,598.7h11.2M410.7,624.1h11.2M410.7,650.0h11.2M461.46,674.2v-9.6M512.22,674.2v-9.6M562.98,674.2v-9.6M613.74,674.2v-9.6M664.50,674.2v-9.6" fill="none" stroke="#000" stroke-width="1.9"/>
<path d="M410.70,674.20 L413.87,670.97 L417.05,667.90 L420.22,664.99 L423.39,662.23 L426.56,659.60 L429.74,657.10 L432.91,654.72 L436.08,652.46 L439.25,650.31 L442.43,648.26 L445.60,646.30 L448.77,644.45 L451.94,642.68 L455.12,641.01 L458.29,639.41 L461.46,637.91 L464.63,636.47 L467.81,635.12 L470.98,633.84 L474.15,632.64 L477.32,631.51 L480.50,630.44 L483.67,629.44 L486.84,628.52 L490.01,627.65 L493.19,626.85 L496.36,626.11 L499.53,625.44 L502.70,624.82 L505.88,624.27 L509.05,623.77 L512.22,623.34 L515.39,622.96 L518.57,622.64 L521.74,622.38 L524.91,622.17 L528.08,622.02 L531.25,621.92 L534.43,621.89 L537.60,621.90 L540.77,621.97 L543.94,622.10 L547.12,622.28 L550.29,622.52 L553.46,622.81 L556.63,623.16 L559.81,623.57 L562.98,624.03 L566.15,624.54 L569.33,625.11 L572.50,625.74 L575.67,626.43 L578.84,627.17 L582.01,627.98 L585.19,628.84 L588.36,629.76 L591.53,630.74 L594.70,631.79 L597.88,632.89 L601.05,634.07 L604.22,635.30 L607.39,636.60 L610.57,637.98 L613.74,639.42 L616.91,640.93 L620.09,642.51 L623.26,644.18 L626.43,645.92 L629.60,647.74 L632.77,649.64 L635.95,651.63 L639.12,653.71 L642.29,655.89 L645.47,658.16 L648.64,660.54 L651.81,663.02 L654.98,665.63 L658.15,668.35 L661.33,671.21 L664.50,674.20" fill="none" stroke="#000" stroke-width="3.6" stroke-dasharray="16.5 3.2" stroke-dashoffset="-1.5"/>
<path d="M410.70,674.20 C411.72,672.96 414.76,669.11 416.80,666.73 C418.83,664.35 420.86,662.09 422.89,659.93 C424.92,657.77 426.95,655.72 428.99,653.77 C431.02,651.82 433.05,649.98 435.08,648.23 C437.11,646.48 439.14,644.84 441.18,643.28 C443.21,641.73 445.24,640.27 447.27,638.90 C449.30,637.53 451.34,636.25 453.37,635.06 C455.40,633.86 457.43,632.76 459.46,631.73 C461.49,630.70 463.53,629.76 465.56,628.89 C467.59,628.02 469.62,627.23 471.65,626.51 C473.69,625.79 475.72,625.15 477.75,624.57 C479.78,623.99 481.81,623.49 483.84,623.04 C485.88,622.60 487.91,622.22 489.94,621.90 C491.97,621.58 494.00,621.32 496.03,621.11 C498.07,620.91 500.10,620.76 502.13,620.66 C504.16,620.57 506.19,620.52 508.23,620.52 C510.26,620.52 512.29,620.57 514.32,620.66 C516.35,620.75 518.38,620.89 520.42,621.06 C522.45,621.23 524.48,621.44 526.51,621.69 C528.54,621.93 530.58,622.21 532.61,622.52 C534.64,622.83 536.67,623.17 538.70,623.53 C540.73,623.90 542.77,624.29 544.80,624.70 C546.83,625.11 548.86,625.55 550.89,626.00 C552.92,626.46 554.96,626.93 556.99,627.43 C559.02,627.92 561.05,628.43 563.08,628.95 C565.12,629.47 567.15,630.01 569.18,630.56 C571.21,631.11 573.24,631.67 575.27,632.23 C577.31,632.80 579.34,633.38 581.37,633.96 C583.40,634.54 585.43,635.12 587.47,635.71 C589.50,636.30 591.53,636.89 593.56,637.48 C595.59,638.07 597.62,638.66 599.66,639.24 C601.69,639.83 603.72,640.41 605.75,640.99 C607.78,641.56 609.81,642.14 611.85,642.71 C613.88,643.29 615.91,643.86 617.94,644.44 C619.97,645.02 622.01,645.61 624.04,646.20 C626.07,646.80 628.10,647.40 630.13,648.01 C632.16,648.63 634.20,649.25 636.23,649.89 C638.26,650.54 640.29,651.19 642.32,651.87 C644.36,652.55 646.39,653.25 648.42,653.97 C650.45,654.69 652.48,655.44 654.51,656.21 C656.55,656.98 658.58,657.78 660.61,658.61 C662.64,659.44 664.67,660.30 666.70,661.20 C668.74,662.10 671.78,663.53 672.80,664.00" fill="none" stroke="#e11e24" stroke-width="3.6" stroke-linecap="butt" stroke-linejoin="round"/>
<text x="401.20" y="605.70" text-anchor="end" class="tl">0.3</text>
<text x="401.20" y="631.10" text-anchor="end" class="tl">0.2</text>
<text x="401.20" y="657.00" text-anchor="end" class="tl">0.1</text>
<text x="397.70" y="701.70" text-anchor="middle" class="tl">0</text>
<text x="461.30" y="701.70" text-anchor="middle" class="tl">0.2</text>
<text x="512.30" y="701.70" text-anchor="middle" class="tl">0.4</text>
<text x="563.30" y="701.70" text-anchor="middle" class="tl">0.6</text>
<text x="614.30" y="701.70" text-anchor="middle" class="tl">0.8</text>
<text x="665.40" y="701.70" text-anchor="middle" class="tl">1.0</text>
<text x="0" y="0" class="gk" transform="translate(427.40,596.70) scale(1.18,1)">η</text>
<text x="669.10" y="659.70" class="gx">ξ</text>
<text x="496.00" y="655.00" font-style="italic" class="halo" aria-hidden="true">C</text>
<text x="0" y="0" transform="translate(508.30,660.00) scale(1.08,1)" class="halo" aria-hidden="true" font-size="17">3</text>
<text x="0" y="0" transform="translate(523.60,655.60) scale(1.25,1)" class="halo" aria-hidden="true">=</text>
<text x="541.60" y="655.00" textLength="57.4" lengthAdjust="spacingAndGlyphs" class="halo" aria-hidden="true">0.2709</text>
<text x="496.00" y="655.00" font-style="italic" class="an">C</text>
<text x="0" y="0" transform="translate(508.30,660.00) scale(1.08,1)" class="an" font-size="17">3</text>
<text x="0" y="0" transform="translate(523.60,655.60) scale(1.25,1)" class="an" style="stroke-width:0">=</text>
<text x="541.60" y="655.00" textLength="57.4" lengthAdjust="spacingAndGlyphs" class="an">0.2709</text>
<path d="M410.7,735.5V829.8M409.35,829.8H686.0" fill="none" stroke="#000" stroke-width="2.7"/>
<path d="M410.7,753.1h11.2M410.7,778.5h11.2M410.7,804.1h11.2M461.46,829.8v-9.6M512.22,829.8v-9.6M562.98,829.8v-9.6M613.74,829.8v-9.6M664.50,829.8v-9.6" fill="none" stroke="#000" stroke-width="1.9"/>
<path d="M410.70,829.80 L413.87,826.53 L417.05,823.43 L420.22,820.49 L423.39,817.70 L426.56,815.04 L429.74,812.51 L432.91,810.11 L436.08,807.82 L439.25,805.64 L442.43,803.57 L445.60,801.60 L448.77,799.72 L451.94,797.94 L455.12,796.24 L458.29,794.63 L461.46,793.11 L464.63,791.66 L467.81,790.29 L470.98,789.00 L474.15,787.78 L477.32,786.64 L480.50,785.56 L483.67,784.55 L486.84,783.61 L490.01,782.74 L493.19,781.93 L496.36,781.18 L499.53,780.50 L502.70,779.88 L505.88,779.32 L509.05,778.82 L512.22,778.38 L515.39,778.00 L518.57,777.67 L521.74,777.41 L524.91,777.20 L528.08,777.05 L531.25,776.95 L534.43,776.91 L537.60,776.93 L540.77,777.00 L543.94,777.13 L547.12,777.31 L550.29,777.55 L553.46,777.85 L556.63,778.20 L559.81,778.61 L562.98,779.07 L566.15,779.60 L569.33,780.17 L572.50,780.81 L575.67,781.50 L578.84,782.26 L582.01,783.07 L585.19,783.94 L588.36,784.87 L591.53,785.86 L594.70,786.92 L597.88,788.04 L601.05,789.22 L604.22,790.47 L607.39,791.79 L610.57,793.18 L613.74,794.63 L616.91,796.16 L620.09,797.77 L623.26,799.45 L626.43,801.20 L629.60,803.04 L632.77,804.97 L635.95,806.98 L639.12,809.09 L642.29,811.28 L645.47,813.58 L648.64,815.99 L651.81,818.50 L654.98,821.13 L658.15,823.89 L661.33,826.77 L664.50,829.80" fill="none" stroke="#000" stroke-width="3.6" stroke-dasharray="16.5 3.2" stroke-dashoffset="-1.8"/>
<path d="M410.70,829.80 C411.71,828.67 414.75,825.20 416.78,823.02 C418.81,820.84 420.83,818.75 422.86,816.74 C424.89,814.72 426.91,812.79 428.94,810.93 C430.97,809.07 432.99,807.29 435.02,805.59 C437.05,803.88 439.07,802.25 441.10,800.70 C443.13,799.14 445.15,797.65 447.18,796.23 C449.21,794.82 451.23,793.47 453.26,792.19 C455.29,790.91 457.31,789.70 459.34,788.55 C461.37,787.40 463.39,786.32 465.42,785.29 C467.45,784.27 469.47,783.31 471.50,782.41 C473.53,781.51 475.55,780.67 477.58,779.88 C479.61,779.10 481.63,778.37 483.66,777.69 C485.69,777.02 487.71,776.40 489.74,775.83 C491.77,775.26 493.79,774.75 495.82,774.28 C497.85,773.81 499.87,773.40 501.90,773.02 C503.93,772.65 505.95,772.33 507.98,772.05 C510.01,771.76 512.03,771.53 514.06,771.33 C516.09,771.13 518.11,770.98 520.14,770.87 C522.17,770.75 524.19,770.67 526.22,770.63 C528.25,770.59 530.27,770.59 532.30,770.62 C534.33,770.65 536.35,770.71 538.38,770.81 C540.41,770.90 542.43,771.03 544.46,771.19 C546.49,771.35 548.51,771.55 550.54,771.79 C552.57,772.02 554.59,772.30 556.62,772.61 C558.65,772.93 560.67,773.29 562.70,773.70 C564.73,774.10 566.75,774.55 568.78,775.06 C570.81,775.56 572.83,776.11 574.86,776.72 C576.89,777.32 578.91,777.98 580.94,778.70 C582.97,779.42 584.99,780.19 587.02,781.02 C589.05,781.86 591.07,782.75 593.10,783.71 C595.13,784.67 597.15,785.69 599.18,786.79 C601.21,787.88 603.23,789.04 605.26,790.27 C607.29,791.50 609.31,792.80 611.34,794.18 C613.37,795.56 615.39,797.02 617.42,798.55 C619.45,800.09 621.47,801.69 623.50,803.39 C625.53,805.09 627.55,806.87 629.58,808.75 C631.61,810.63 633.63,812.59 635.66,814.66 C637.69,816.73 639.71,818.90 641.74,821.17 C643.77,823.45 645.79,825.83 647.82,828.34 C649.85,830.84 652.89,834.88 653.90,836.19" fill="none" stroke="#e11e24" stroke-width="3.6" stroke-linecap="butt" stroke-linejoin="round"/>
<text x="401.20" y="760.10" text-anchor="end" class="tl">0.3</text>
<text x="401.20" y="785.50" text-anchor="end" class="tl">0.2</text>
<text x="401.20" y="811.10" text-anchor="end" class="tl">0.1</text>
<text x="397.70" y="857.30" text-anchor="middle" class="tl">0</text>
<text x="461.30" y="857.30" text-anchor="middle" class="tl">0.2</text>
<text x="512.30" y="857.30" text-anchor="middle" class="tl">0.4</text>
<text x="563.30" y="857.30" text-anchor="middle" class="tl">0.6</text>
<text x="614.30" y="857.30" text-anchor="middle" class="tl">0.8</text>
<text x="665.40" y="857.30" text-anchor="middle" class="tl">1.0</text>
<text x="0" y="0" class="gk" transform="translate(427.40,751.90) scale(1.18,1)">η</text>
<text x="669.00" y="817.20" class="gx">ξ</text>
<text x="496.40" y="809.30" font-style="italic" class="halo" aria-hidden="true">C</text>
<text x="0" y="0" transform="translate(508.70,814.30) scale(1.08,1)" class="halo" aria-hidden="true" font-size="17">2</text>
<text x="0" y="0" transform="translate(524.00,809.90) scale(1.25,1)" class="halo" aria-hidden="true">=</text>
<text x="541.90" y="809.30" textLength="56.7" lengthAdjust="spacingAndGlyphs" class="halo" aria-hidden="true">0.0858</text>
<text x="496.40" y="809.30" font-style="italic" class="an">C</text>
<text x="0" y="0" transform="translate(508.70,814.30) scale(1.08,1)" class="an" font-size="17">2</text>
<text x="0" y="0" transform="translate(524.00,809.90) scale(1.25,1)" class="an" style="stroke-width:0">=</text>
<text x="541.90" y="809.30" textLength="56.7" lengthAdjust="spacingAndGlyphs" class="an">0.0858</text>
<path d="M410.7,895.2V990.1M409.35,990.1H684.0" fill="none" stroke="#000" stroke-width="2.7"/>
<path d="M410.7,914.0h11.2M410.7,939.7h11.2M410.7,964.5h11.2M461.46,990.1v-9.6M512.22,990.1v-9.6M562.98,990.1v-9.6M613.74,990.1v-9.6M664.50,990.1v-9.6" fill="none" stroke="#000" stroke-width="1.9"/>
<path d="M410.70,990.10 L413.87,986.86 L417.05,983.78 L420.22,980.86 L423.39,978.09 L426.56,975.46 L429.74,972.95 L432.91,970.57 L436.08,968.30 L439.25,966.14 L442.43,964.08 L445.60,962.12 L448.77,960.26 L451.94,958.49 L455.12,956.81 L458.29,955.22 L461.46,953.70 L464.63,952.27 L467.81,950.91 L470.98,949.63 L474.15,948.42 L477.32,947.28 L480.50,946.22 L483.67,945.22 L486.84,944.29 L490.01,943.42 L493.19,942.62 L496.36,941.88 L499.53,941.20 L502.70,940.58 L505.88,940.03 L509.05,939.53 L512.22,939.09 L515.39,938.71 L518.57,938.39 L521.74,938.13 L524.91,937.92 L528.08,937.77 L531.25,937.68 L534.43,937.64 L537.60,937.65 L540.77,937.73 L543.94,937.85 L547.12,938.04 L550.29,938.27 L553.46,938.57 L556.63,938.92 L559.81,939.32 L562.98,939.78 L566.15,940.30 L569.33,940.87 L572.50,941.51 L575.67,942.19 L578.84,942.94 L582.01,943.75 L585.19,944.61 L588.36,945.53 L591.53,946.52 L594.70,947.57 L597.88,948.68 L601.05,949.85 L604.22,951.09 L607.39,952.40 L610.57,953.77 L613.74,955.22 L616.91,956.73 L620.09,958.32 L623.26,959.99 L626.43,961.73 L629.60,963.56 L632.77,965.47 L635.95,967.47 L639.12,969.55 L642.29,971.73 L645.47,974.01 L648.64,976.40 L651.81,978.89 L654.98,981.50 L658.15,984.23 L661.33,987.10 L664.50,990.10" fill="none" stroke="#000" stroke-width="3.6" stroke-dasharray="16.5 3.2" stroke-dashoffset="-2.2"/>
<path d="M410.70,990.09 C411.72,989.09 414.77,986.04 416.80,984.11 C418.83,982.18 420.86,980.32 422.90,978.52 C424.93,976.72 426.96,974.98 428.99,973.30 C431.03,971.62 433.06,970.01 435.09,968.45 C437.12,966.89 439.16,965.39 441.19,963.95 C443.22,962.51 445.25,961.12 447.29,959.79 C449.32,958.46 451.35,957.19 453.38,955.97 C455.42,954.75 457.45,953.59 459.48,952.47 C461.51,951.36 463.55,950.30 465.58,949.29 C467.61,948.28 469.64,947.32 471.68,946.41 C473.71,945.50 475.74,944.64 477.77,943.82 C479.81,943.01 481.84,942.24 483.87,941.52 C485.90,940.79 487.94,940.12 489.97,939.48 C492.00,938.85 494.03,938.26 496.07,937.72 C498.10,937.17 500.13,936.66 502.16,936.20 C504.20,935.73 506.23,935.31 508.26,934.92 C510.29,934.54 512.33,934.19 514.36,933.88 C516.39,933.57 518.42,933.30 520.46,933.06 C522.49,932.83 524.52,932.62 526.55,932.46 C528.59,932.29 530.62,932.15 532.65,932.05 C534.68,931.95 536.72,931.88 538.75,931.84 C540.78,931.79 542.82,931.78 544.85,931.80 C546.88,931.82 548.91,931.87 550.95,931.95 C552.98,932.03 555.01,932.13 557.04,932.27 C559.08,932.41 561.11,932.58 563.14,932.78 C565.17,932.99 567.21,933.22 569.24,933.49 C571.27,933.75 573.30,934.05 575.34,934.38 C577.37,934.72 579.40,935.08 581.43,935.48 C583.47,935.88 585.50,936.32 587.53,936.79 C589.56,937.26 591.60,937.76 593.63,938.30 C595.66,938.84 597.69,939.42 599.73,940.03 C601.76,940.64 603.79,941.29 605.82,941.98 C607.86,942.67 609.89,943.39 611.92,944.16 C613.95,944.92 615.99,945.72 618.02,946.56 C620.05,947.40 622.08,948.28 624.12,949.20 C626.15,950.12 628.18,951.08 630.21,952.09 C632.25,953.09 634.28,954.13 636.31,955.21 C638.34,956.30 640.38,957.42 642.41,958.59 C644.44,959.76 646.47,960.97 648.51,962.22 C650.54,963.47 652.57,964.77 654.60,966.11 C656.64,967.45 658.67,968.84 660.70,970.27 C662.73,971.70 665.78,973.96 666.80,974.69" fill="none" stroke="#e11e24" stroke-width="3.6" stroke-linecap="butt" stroke-linejoin="round"/>
<text x="401.20" y="921.00" text-anchor="end" class="tl">0.3</text>
<text x="401.20" y="946.70" text-anchor="end" class="tl">0.2</text>
<text x="401.20" y="971.50" text-anchor="end" class="tl">0.1</text>
<text x="397.70" y="1017.60" text-anchor="middle" class="tl">0</text>
<text x="461.30" y="1017.60" text-anchor="middle" class="tl">0.2</text>
<text x="512.30" y="1017.60" text-anchor="middle" class="tl">0.4</text>
<text x="563.30" y="1017.60" text-anchor="middle" class="tl">0.6</text>
<text x="614.30" y="1017.60" text-anchor="middle" class="tl">0.8</text>
<text x="665.40" y="1017.60" text-anchor="middle" class="tl">1.0</text>
<text x="0" y="0" class="gk" transform="translate(427.40,911.60) scale(1.18,1)">η</text>
<text x="669.60" y="976.20" class="gx">ξ</text>
<text x="495.10" y="967.60" font-style="italic" class="halo" aria-hidden="true">C</text>
<text x="0" y="0" transform="translate(507.40,972.60) scale(1.08,1)" class="halo" aria-hidden="true" font-size="17">1</text>
<text x="0" y="0" transform="translate(522.70,968.20) scale(1.25,1)" class="halo" aria-hidden="true">=</text>
<text x="540.20" y="967.60" textLength="57.0" lengthAdjust="spacingAndGlyphs" class="halo" aria-hidden="true">0.0174</text>
<text x="495.10" y="967.60" font-style="italic" class="an">C</text>
<text x="0" y="0" transform="translate(507.40,972.60) scale(1.08,1)" class="an" font-size="17">1</text>
<text x="0" y="0" transform="translate(522.70,968.20) scale(1.25,1)" class="an" style="stroke-width:0">=</text>
<text x="540.20" y="967.60" textLength="57.0" lengthAdjust="spacingAndGlyphs" class="an">0.0174</text>
<text x="53.2" y="22.2" class="ti" textLength="233.6" lengthAdjust="spacingAndGlyphs">(a) Hinged-hinged end</text>
<text x="442.0" y="21.9" class="ti" textLength="209.7" lengthAdjust="spacingAndGlyphs">(b) Hinged-clamped</text>
<text x="38.3" y="558.9" class="ti" textLength="262.8" lengthAdjust="spacingAndGlyphs">(c) Clamped-clamped end</text>
<text x="435.4" y="559.5" class="ti" textLength="221.7" lengthAdjust="spacingAndGlyphs">(d) Clamped-free end</text>
</svg>
</body></html>
